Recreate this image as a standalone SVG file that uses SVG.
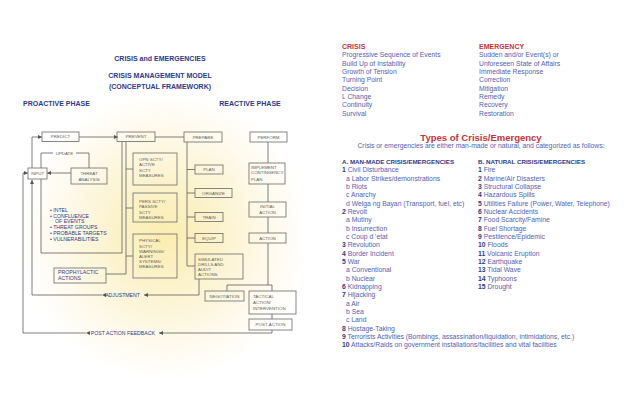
<svg xmlns="http://www.w3.org/2000/svg" width="638" height="410" viewBox="0 0 638 410">
<defs>
<radialGradient id="glow" gradientUnits="userSpaceOnUse" cx="165" cy="235" r="145">
<stop offset="0" stop-color="#faedb0"/>
<stop offset="0.4" stop-color="#fcf3cf"/>
<stop offset="0.75" stop-color="#fefaed"/>
<stop offset="1" stop-color="#ffffff"/>
</radialGradient>
<marker id="ah" viewBox="0 0 6 6" refX="6" refY="3" markerWidth="4" markerHeight="4" markerUnits="userSpaceOnUse" orient="auto">
<path d="M0,0 L6,3 L0,6 Z" fill="#555"/>
</marker>
</defs>
<style>
.h{font-family:"Liberation Sans",Arial,sans-serif;font-weight:bold;font-size:7px;fill:#2e3a87;}
.bx{fill:none;stroke:#7a7a7a;stroke-width:0.9;}
.bt{font-family:"Liberation Sans",Arial,sans-serif;font-size:4.4px;fill:#5e5e5e;}
.nv{font-family:"Liberation Sans",Arial,sans-serif;font-size:5.2px;fill:#2e3a87;}
.ln{fill:none;stroke:#5e5e5e;stroke-width:0.8;}
.red{font-family:"Liberation Sans",Arial,sans-serif;font-weight:bold;fill:#c4343c;}
.it{font-family:"Liberation Sans",Arial,sans-serif;font-size:6.8px;fill:#5262b3;}
.n{font-weight:bold;fill:#2e3a87;}
.sh{font-family:"Liberation Sans",Arial,sans-serif;font-weight:bold;font-size:6.2px;fill:#2e3a87;}
</style>
<rect width="638" height="410" fill="#ffffff"/>
<rect x="0" y="90" width="330" height="300" fill="url(#glow)"/>

<g id="titles">
<text class="h" x="160" y="61" text-anchor="middle">CRISIS and EMERGENCIES</text>
<text class="h" x="160" y="78" text-anchor="middle">CRISIS MANAGEMENT MODEL</text>
<text class="h" x="160" y="88.5" text-anchor="middle">(CONCEPTUAL FRAMEWORK)</text>
<text class="h" x="23" y="106">PROACTIVE PHASE</text>
<text class="h" x="250" y="106" text-anchor="middle">REACTIVE PHASE</text>
</g>

<g id="connectors">
<path class="ln" d="M32,168 V137 H42" marker-end="url(#ah)"/>
<path class="ln" d="M79,137 H118" marker-end="url(#ah)"/>
<path class="ln" d="M155,137 H184"/>
<path class="ln" d="M89,168 V153 H76"/>
<path class="ln" d="M53,153 H41 V168"/>
<path class="ln" d="M71,173 H47" marker-end="url(#ah)"/>
<path class="ln" d="M41,179 V253 H122 V141"/>
<path class="ln" d="M126,141 V274 H106"/>
<path class="ln" d="M126,169 H133 M126,208 H133 M126,256 H133"/>
<path class="ln" d="M187,142 V266 H195"/>
<path class="ln" d="M187,169.5 H195 M187,193 H195 M187,217 H195 M187,238 H195"/>
<path class="ln" d="M268,142 V163 M268,184 V202 M268,217 V233 M268,243 V285"/>
<path class="ln" d="M227,291 V285 H272 V291"/>
<path class="ln" d="M272,314 V319"/>
<path class="ln" d="M272,330 V333 H159" marker-end="url(#ah)"/>
<path class="ln" d="M86,333 H23 V173 H28" marker-start="url(#ah)" marker-end="url(#ah)"/>
<path class="ln" d="M199,279 V295 H144" marker-end="url(#ah)"/>
<path class="ln" d="M102,295 H32 V180" marker-start="url(#ah)" marker-end="url(#ah)"/>
<text class="bt" x="64.5" y="154.5" text-anchor="middle">UPDATE</text>
<text class="nv" x="140" y="297" text-anchor="end">ADJUSTMENT</text>
<text class="nv" x="155" y="335" text-anchor="end">POST ACTION FEEDBACK</text>
</g>

<g id="predict"><rect class="bx" x="42" y="132" width="37" height="9.5"/><text class="bt" x="60.5" y="138.4" text-anchor="middle">PREDICT</text></g>
<g id="prevent"><rect class="bx" x="117" y="132" width="38" height="9.5"/><text class="bt" x="136" y="138.4" text-anchor="middle">PREVENT</text></g>
<g id="prepare"><rect class="bx" x="184" y="132" width="38" height="10"/><text class="bt" x="203" y="138.6" text-anchor="middle">PREPARE</text></g>
<g id="perform"><rect class="bx" x="250" y="132" width="37" height="10"/><text class="bt" x="268.5" y="138.6" text-anchor="middle">PERFORM</text></g>
<g id="input"><rect class="bx" x="28" y="168" width="19" height="11"/><text class="bt" x="37.5" y="175" text-anchor="middle">INPUT</text></g>
<g id="threat"><rect class="bx" x="71" y="168" width="36" height="16"/><text class="bt" x="89" y="175" text-anchor="middle">THREAT</text><text class="bt" x="89" y="180.5" text-anchor="middle">ANALYSIS</text></g>
<g id="intel">
<text class="nv" x="50" y="212">• INTEL</text>
<text class="nv" x="50" y="217.7">• CONFLUENCE</text>
<text class="nv" x="55" y="223.4">OF EVENTS</text>
<text class="nv" x="50" y="229.1">• THREAT GROUPS</text>
<text class="nv" x="50" y="234.8">• PROBABLE TARGETS</text>
<text class="nv" x="50" y="240.5">• VULNERABILITIES</text>
</g>
<g id="prophylactic"><rect class="bx" x="54" y="268" width="52" height="15"/><text class="nv" x="58" y="273.5">PROPHYLACTIC</text><text class="nv" x="58" y="280">ACTIONS</text></g>
<g id="opn"><rect class="bx" x="133" y="153" width="44" height="32"/>
<text class="bt" x="139" y="160.5">OPN SCTY/</text><text class="bt" x="139" y="166">ACTIVE</text><text class="bt" x="139" y="171.5">SCTY</text><text class="bt" x="139" y="177">MEASURES</text></g>
<g id="pers"><rect class="bx" x="133" y="193" width="44" height="29"/>
<text class="bt" x="139" y="202.5">PERS SCTY/</text><text class="bt" x="139" y="208">PASSIVE</text><text class="bt" x="139" y="213.5">SCTY</text><text class="bt" x="139" y="219">MEASURES</text></g>
<g id="physical"><rect class="bx" x="133" y="234" width="44" height="44"/>
<text class="bt" x="139" y="242.3">PHYSICAL</text><text class="bt" x="139" y="247.5">SCTY/</text><text class="bt" x="139" y="252.7">WARNINGS/</text><text class="bt" x="139" y="257.9">ALERT</text><text class="bt" x="139" y="263.1">SYSTEMS/</text><text class="bt" x="139" y="268.3">MEASURES</text></g>
<g id="plan"><rect class="bx" x="195" y="165" width="28" height="9"/><text class="bt" x="209" y="171.1" text-anchor="middle">PLAN</text></g>
<g id="organize"><rect class="bx" x="195" y="188.5" width="37" height="9"/><text class="bt" x="213.5" y="194.6" text-anchor="middle">ORGANIZE</text></g>
<g id="train"><rect class="bx" x="195" y="212.5" width="28" height="9"/><text class="bt" x="209" y="218.6" text-anchor="middle">TRAIN</text></g>
<g id="equip"><rect class="bx" x="195" y="233.5" width="28" height="9"/><text class="bt" x="209" y="239.6" text-anchor="middle">EQUIP</text></g>
<g id="simulated"><rect class="bx" x="195" y="254" width="48" height="25"/>
<text class="bt" x="198" y="260.5">SIMULATED</text><text class="bt" x="198" y="265.8">DRILLS AND</text><text class="bt" x="198" y="271.1">AUDIT</text><text class="bt" x="198" y="276.4">ACTIONS</text></g>
<g id="implement"><rect class="bx" x="249" y="163" width="36" height="21"/>
<text class="bt" x="251" y="168.8">IMPLEMENT</text><text class="bt" x="251" y="174.3">CONTINGENCY</text><text class="bt" x="251" y="180.5">PLAN</text></g>
<g id="initial"><rect class="bx" x="249" y="202" width="37" height="15"/>
<text class="bt" x="267.5" y="207.8" text-anchor="middle">INITIAL</text><text class="bt" x="267.5" y="214" text-anchor="middle">ACTION</text></g>
<g id="action"><rect class="bx" x="249" y="233" width="37" height="10"/><text class="bt" x="267.5" y="239.6" text-anchor="middle">ACTION</text></g>
<g id="negotiation"><rect class="bx" x="205" y="291" width="39" height="10"/><text class="bt" x="224.5" y="297.6" text-anchor="middle">NEGOTIATION</text></g>
<g id="tactical"><rect class="bx" x="249" y="291" width="47" height="23"/>
<text class="bt" x="253" y="298.2">TACTICAL</text><text class="bt" x="253" y="304">ACTION/</text><text class="bt" x="253" y="309.8">INTERVENTION</text></g>
<g id="postaction"><rect class="bx" x="249" y="319" width="43" height="11"/><text class="bt" x="270.5" y="326" text-anchor="middle">POST-ACTION</text></g>

<g id="crisis-def">
<text class="red" x="342" y="49.3" font-size="7">CRISIS</text>
<text class="it" x="342" y="57.4">Progressive Sequence of Events</text>
<text class="it" x="342" y="65.7">Build Up of Instability</text>
<text class="it" x="342" y="74">Growth of Tension</text>
<text class="it" x="342" y="82.4">Turning Point</text>
<text class="it" x="342" y="90.7">Decision</text>
<text class="it" x="342" y="99">L Change</text>
<text class="it" x="342" y="107.4">Continuity</text>
<text class="it" x="342" y="115.7">Survival</text>
</g>
<g id="emergency-def">
<text class="red" x="479" y="49.3" font-size="7">EMERGENCY</text>
<text class="it" x="479" y="57.4">Sudden and/or Event(s) or</text>
<text class="it" x="479" y="65.7">Unforeseen State of Affairs</text>
<text class="it" x="479" y="74">Immediate Response</text>
<text class="it" x="479" y="82.4">Correction</text>
<text class="it" x="479" y="90.7">Mitigation</text>
<text class="it" x="479" y="99">Remedy</text>
<text class="it" x="479" y="107.4">Recovery</text>
<text class="it" x="479" y="115.7">Restoration</text>
</g>
<g id="types">
<text class="red" x="481" y="140.5" font-size="9.5" text-anchor="middle">Types of Crisis/Emergency</text>
<text class="it" x="481" y="148.3" text-anchor="middle">Crisis or emergencies are either man-made or natural, and categorized as follows:</text>
</g>
<g id="man-made">
<text class="sh" x="342" y="163.8">A. MAN-MADE CRISIS/EMERGENCIES</text>
<text class="it" x="342" y="172.3"><tspan class="n">1</tspan> Civil Disturbance</text>
<text class="it" x="346" y="180.7">a Labor Strikes/demonstrations</text>
<text class="it" x="346" y="189">b Riots</text>
<text class="it" x="346" y="197.3">c Anarchy</text>
<text class="it" x="346" y="205.7">d Welga ng Bayan (Transport, fuel, etc)</text>
<text class="it" x="342" y="214"><tspan class="n">2</tspan> Revolt</text>
<text class="it" x="346" y="222.3">a Mutiny</text>
<text class="it" x="346" y="230.7">b Insurrection</text>
<text class="it" x="346" y="239">c Coup d 'etat</text>
<text class="it" x="342" y="247.3"><tspan class="n">3</tspan> Revolution</text>
<text class="it" x="342" y="255.7"><tspan class="n">4</tspan> Border Incident</text>
<text class="it" x="342" y="264"><tspan class="n">5</tspan> War</text>
<text class="it" x="346" y="272.3">a Conventional</text>
<text class="it" x="346" y="280.7">b Nuclear</text>
<text class="it" x="342" y="289"><tspan class="n">6</tspan> Kidnapping</text>
<text class="it" x="342" y="297.3"><tspan class="n">7</tspan> Hijacking</text>
<text class="it" x="346" y="305.7">a Air</text>
<text class="it" x="346" y="314">b Sea</text>
<text class="it" x="346" y="322.3">c Land</text>
<text class="it" x="342" y="330.7"><tspan class="n">8</tspan> Hostage-Taking</text>
<text class="it" x="342" y="339"><tspan class="n">9</tspan> Terrorists Activities (Bombings, assassination/liquidation, intimidations, etc.)</text>
<text class="it" x="342" y="347.3"><tspan class="n">10</tspan> Attacks/Raids on government installations/facilities and vital facilities</text>
</g>
<g id="natural">
<text class="sh" x="478" y="163.8">B. NATURAL CRISIS/EMERGENCIES</text>
<text class="it" x="478" y="172.3"><tspan class="n">1</tspan> Fire</text>
<text class="it" x="478" y="180.7"><tspan class="n">2</tspan> Marine/Air Disasters</text>
<text class="it" x="478" y="189"><tspan class="n">3</tspan> Structural Collapse</text>
<text class="it" x="478" y="197.3"><tspan class="n">4</tspan> Hazardous Spills</text>
<text class="it" x="478" y="205.7"><tspan class="n">5</tspan> Utilities Failure (Power, Water, Telephone)</text>
<text class="it" x="478" y="214"><tspan class="n">6</tspan> Nuclear Accidents</text>
<text class="it" x="478" y="222.3"><tspan class="n">7</tspan> Food Scarcity/Famine</text>
<text class="it" x="478" y="230.7"><tspan class="n">8</tspan> Fuel Shortage</text>
<text class="it" x="478" y="239"><tspan class="n">9</tspan> Pestilence/Epidemic</text>
<text class="it" x="478" y="247.3"><tspan class="n">10</tspan> Floods</text>
<text class="it" x="478" y="255.7"><tspan class="n">11</tspan> Volcanic Eruption</text>
<text class="it" x="478" y="264"><tspan class="n">12</tspan> Earthquake</text>
<text class="it" x="478" y="272.3"><tspan class="n">13</tspan> Tidal Wave</text>
<text class="it" x="478" y="280.7"><tspan class="n">14</tspan> Typhoons</text>
<text class="it" x="478" y="289"><tspan class="n">15</tspan> Drought</text>
</g>
</svg>
